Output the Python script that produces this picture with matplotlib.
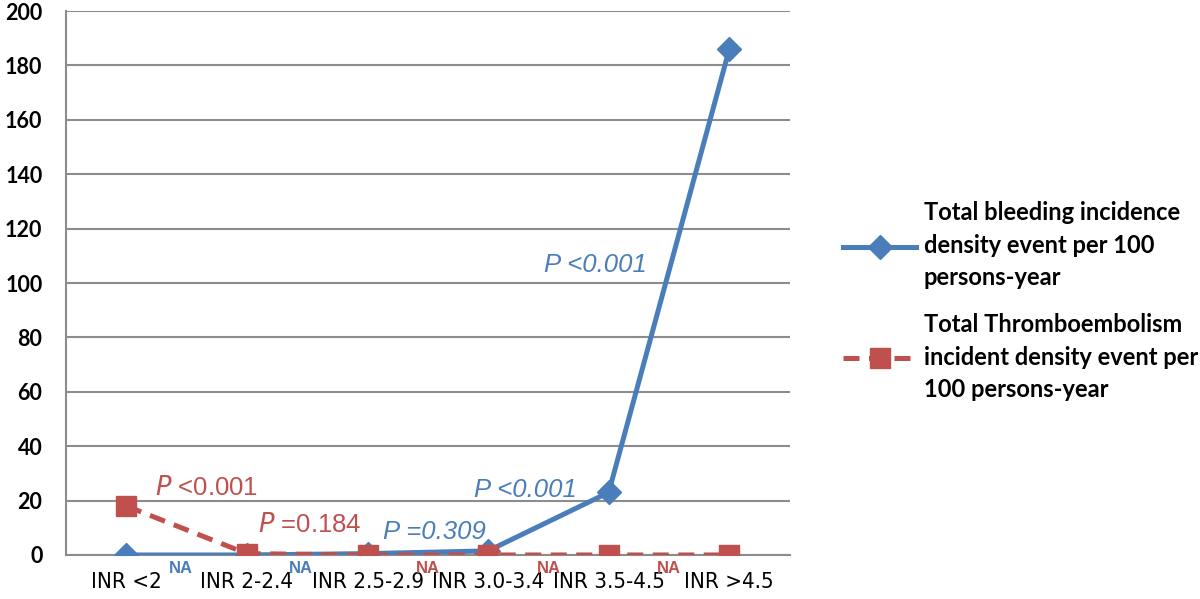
import matplotlib.pyplot as plt
from matplotlib import font_manager

# data
categories = ['INR <2', 'INR 2-2.4', 'INR 2.5-2.9', 'INR 3.0-3.4', 'INR 3.5-4.5', 'INR >4.5']
bleeding = [0, 0, 0.5, 1.5, 23, 186]
thrombo = [18, 0.5, 0, 0, 0, 0]
na_pos = [0.45, 1.45, 2.5, 3.5, 4.5]
na_colors = ['blue', 'blue', 'red', 'red', 'red']

blue = '#4a7ebb'
red = '#c0504d'

# look for a narrow font for the category labels
narrow_prop = None
for f in font_manager.fontManager.ttflist:
    if ('Narrow' in f.name or str(f.stretch) in ('condensed', 'semi-condensed')) and f.style == 'normal' \
            and f.weight in (400, 'normal', 'regular'):
        narrow_prop = font_manager.FontProperties(fname=f.fname, size=16)
        break
if narrow_prop is None:
    narrow_prop = font_manager.FontProperties(family='DejaVu Sans', size=14)

fig = plt.figure(figsize=(12, 5.99), dpi=100)
ax = fig.add_axes([0.055, 0.0735, 0.603, 0.908])

x = list(range(len(categories)))
l1, = ax.plot(x, bleeding, color=blue, lw=3.6, marker='D', ms=12, mfc=blue, mec=blue,
              label='Total bleeding incidence\ndensity event per 100\npersons-year', zorder=3)
l2, = ax.plot(x, thrombo, color=red, lw=3.6, ls=(0, (3.2, 1.9)), marker='s', ms=15, mfc=red, mec=red,
              label='Total Thromboembolism\nincident density event per\n100 persons-year', zorder=4)

ax.set_xlim(-0.5, 5.5)
ax.set_ylim(0, 200)
ax.set_yticks(range(0, 201, 20))
ax.set_xticks(x)
ax.set_xticklabels(categories)
for lab in ax.get_xticklabels():
    lab.set_fontproperties(narrow_prop)
ax.tick_params(axis='x', length=0, pad=12)
ax.tick_params(axis='y', length=0, pad=17)
for lab in ax.get_yticklabels():
    lab.set_fontfamily('Lato')
    lab.set_fontweight('bold')
    lab.set_fontsize(15.5)

ax.grid(axis='y', color='#8c8c8c', lw=1.5)
ax.set_axisbelow(True)
for s in ['top', 'right']:
    ax.spines[s].set_visible(False)
ax.spines['left'].set_color('#8c8c8c')
ax.spines['left'].set_linewidth(1.5)
ax.spines['bottom'].set_color('#8c8c8c')
ax.spines['bottom'].set_linewidth(1.5)

# p-value annotations
fs = 18.5
ax.text(0.24, 24.5, r'$\mathit{P}$ <0.001', color=red, fontsize=fs, va='center', family='Liberation Sans')
ax.text(1.09, 11, r'$\mathit{P}$ =0.184', color=red, fontsize=fs, va='center', family='Liberation Sans')
ax.text(2.13, 8.5, 'P =0.309', color=blue, fontsize=fs, va='center', style='italic', family='Liberation Sans')
ax.text(2.88, 24, 'P <0.001', color=blue, fontsize=fs, va='center', style='italic', family='Liberation Sans')
ax.text(3.46, 106.5, 'P <0.001', color=blue, fontsize=fs, va='center', style='italic', family='Liberation Sans')

for p, c in zip(na_pos, na_colors):
    ax.text(p, -4.8, 'NA', color=blue if c == 'blue' else red, fontsize=12, fontweight='bold',
            ha='center', va='center', family='Liberation Sans', clip_on=False)

leg = fig.legend(handles=[l1, l2], loc='center left', bbox_to_anchor=(0.685, 0.497),
                 frameon=False, handlelength=3.1, labelspacing=1.0, handletextpad=0.3,
                 prop={'family': 'Lato', 'weight': 'bold', 'size': 17})
for t in leg.get_texts():
    t.set_linespacing(1.5)

fig.savefig('out.png', dpi=100)
